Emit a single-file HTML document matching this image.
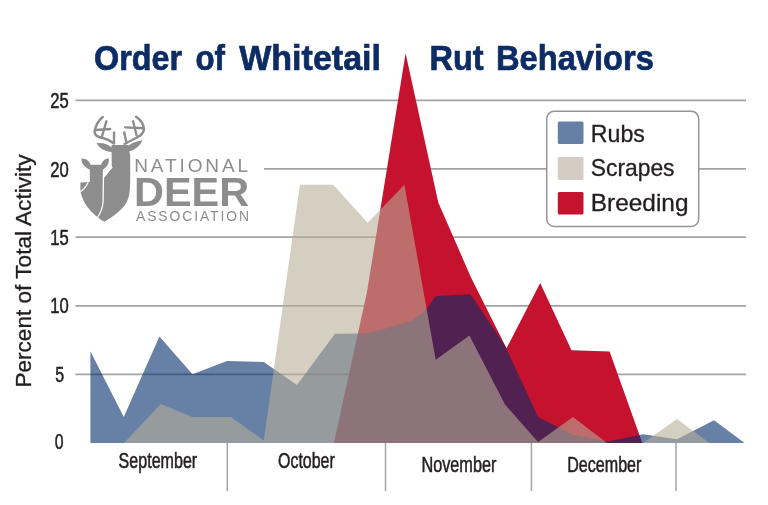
<!DOCTYPE html>
<html><head><meta charset="utf-8">
<style>
html,body{margin:0;padding:0;background:#fff;width:768px;height:505px;overflow:hidden}
svg{display:block;will-change:transform;filter:blur(0.4px)}
text{font-family:"Liberation Sans",sans-serif}
</style></head>
<body>
<svg width="768" height="505" viewBox="0 0 768 505">
<rect width="768" height="505" fill="#fff"/>
<!-- gridlines -->
<g stroke="#a3a3a3" stroke-width="1.8">
<line x1="75.5" y1="100.3" x2="746" y2="100.3"/>
<line x1="264" y1="168.8" x2="746" y2="168.8"/>
<line x1="75.5" y1="237.2" x2="746" y2="237.2"/>
<line x1="75.5" y1="305.8" x2="746" y2="305.8"/>
<line x1="75.5" y1="374.4" x2="746" y2="374.4"/>
</g>
<!-- month separators -->
<g stroke="#a3a3a3" stroke-width="1.5">
<line x1="227.3" y1="443" x2="227.3" y2="491"/>
<line x1="385.5" y1="443" x2="385.5" y2="491"/>
<line x1="531.4" y1="443" x2="531.4" y2="491"/>
<line x1="676" y1="443" x2="676" y2="491"/>
</g>
<!-- Breeding (opaque) -->
<polygon fill="#c5122e" points="333.9,443 367,292 405.6,53.3 438.3,202.5 471,277.5 506.5,348.3 540.2,283 571.5,350.2 609.6,351.4 642.3,443"/>
<!-- Rubs -->
<polygon fill="#022b69" fill-opacity="0.6" points="90.4,443 90.4,351.3 123.75,416.9 159.4,336.4 192.5,374.2 227,361.1 263.8,362 297,385 335,333.7 366,333.5 386,328.5 411,321 425,311 435.8,296 470.5,294.3 504.6,345 538.1,417 573,434.7 607.8,441.5 643,434.3 677,439.3 714,420.2 744.6,443"/>
<!-- Scrapes -->
<polygon fill="#b8ae98" fill-opacity="0.59" points="91.9,443 124,443 160.7,403.9 192.5,416.9 231,416.9 263.8,440.5 299.9,184.7 333.2,184.7 367.7,222.8 404.4,184.75 435.7,359.8 469.4,335.6 505,404.6 538.1,442 573,417 607,443 643,443 677,418.9 709.5,443 745,443"/>

<!-- logo white bg -->
<rect x="76" y="112" width="186" height="116" fill="#fff"/>
<g fill="#8d8d8d">
<!-- antlers -->
<g fill="none" stroke="#8d8d8d" stroke-width="2.4" stroke-linecap="round" stroke-linejoin="round">
<path d="M102.7,117 C99,120 95.5,126 94.5,132 C95,136 99,137.5 103,138 C107,139 110.5,140.5 114,143.5"/>
<path d="M101.8,137 L106.4,121.3"/>
<path d="M95.8,130 L110.2,129"/>
<path d="M114,132.5 L114,143"/>
<path d="M136.1,116.8 C140,119.5 143.5,124 144,129 C143.5,133.5 141,135.5 137,137.5 C133,139.5 129,141.5 124.5,144"/>
<path d="M136.6,135.5 L133.1,121.3"/>
<path d="M143.4,128.2 L125.2,127.4"/>
<path d="M124.2,132.5 L126.2,141.5"/>
</g>
<!-- ears -->
<path d="M96.5,143 C103,142.5 109,144.5 112.5,148 L112.5,152 C105,152 99.5,148.5 96.5,143 Z"/>
<path d="M142.5,140.5 C136,141 130,143.5 126.5,147.5 L126.5,151.5 C134,151 139.5,146.5 142.5,140.5 Z"/>
<!-- doe head -->
<path d="M81.5,158.5 C85.5,158.5 89.5,160.5 90.5,164.8 L101.3,164.8 C102.3,160.5 105.5,158.5 108.8,158.5 C109.3,163 107.3,167.5 102.8,169.5 L102.8,185 L89.8,185 L89.8,169.5 C84.5,167.5 81,163 81.5,158.5 Z"/>
<!-- body + buck neck -->
<path d="M80.4,182.5 L89.8,182 L103.3,177.5 L111.8,167.5 L111.5,145 L128.5,145 L130.2,156 L130.2,182 C130,191 129.4,197 126.5,202.5 C121.5,210.5 113,216.5 104.5,221.8 C96,217 88.5,210 84.3,202 C82.3,198 81,194.5 80.4,191 Z"/>
</g>
<g fill="none" stroke="#fff" stroke-width="1.3">
<path d="M112.3,166.8 L103.4,177.6 L103.1,202 C102.6,208 100.6,213 97.3,218"/>
<path d="M88.2,182.3 C86.5,186 83.8,189.6 80,191.8"/>
</g>
<g fill="#8d8d8d">
<text x="134.2" y="172" font-size="19" textLength="113.9" lengthAdjust="spacing">NATIONAL</text>
<text x="134" y="206.2" font-size="41.4" font-weight="bold" textLength="115.1" lengthAdjust="spacingAndGlyphs">DEER</text>
<text x="136" y="220.8" font-size="13.9" textLength="113" lengthAdjust="spacing">ASSOCIATION</text>
</g>

<!-- title -->
<g fill="#0d2c63" stroke="#0d2c63" stroke-width="0.7" font-weight="bold">
<text x="94" y="70" font-size="35.7" textLength="88" lengthAdjust="spacingAndGlyphs">Order</text>
<text x="195.4" y="70" font-size="35.7" textLength="29.5" lengthAdjust="spacingAndGlyphs">of</text>
<text x="239.2" y="69.8" font-size="35.7" textLength="141.8" lengthAdjust="spacingAndGlyphs">Whitetail</text>
<text x="429.5" y="69.8" font-size="35.7" textLength="54.2" lengthAdjust="spacingAndGlyphs">Rut</text>
<text x="496" y="70" font-size="35.7" textLength="157.9" lengthAdjust="spacingAndGlyphs">Behaviors</text>
</g>

<!-- y ticks -->
<g fill="#231f20" stroke="#231f20" stroke-width="0.55" font-size="22">
<text x="50.2" y="108.4" textLength="18.5" lengthAdjust="spacingAndGlyphs">25</text>
<text x="50.2" y="176.6" textLength="18.5" lengthAdjust="spacingAndGlyphs">20</text>
<text x="50.2" y="244.8" textLength="18.5" lengthAdjust="spacingAndGlyphs">15</text>
<text x="50.2" y="313" textLength="18.5" lengthAdjust="spacingAndGlyphs">10</text>
<text x="55.2" y="381.8" textLength="8.9" lengthAdjust="spacingAndGlyphs">5</text>
<text x="54.8" y="449" textLength="8.8" lengthAdjust="spacingAndGlyphs">0</text>
</g>
<!-- y axis label -->
<text transform="translate(31.2,387.6) rotate(-90)" fill="#231f20" stroke="#231f20" stroke-width="0.3" font-size="22.1" textLength="233.2" lengthAdjust="spacingAndGlyphs">Percent of Total Activity</text>

<!-- month labels -->
<g fill="#231f20" stroke="#231f20" stroke-width="0.55" font-size="22.5">
<text x="118.6" y="468.3" textLength="78.6" lengthAdjust="spacingAndGlyphs">September</text>
<text x="278" y="468" textLength="56.8" lengthAdjust="spacingAndGlyphs">October</text>
<text x="421.4" y="471.5" textLength="75" lengthAdjust="spacingAndGlyphs">November</text>
<text x="567.2" y="471.5" textLength="74.2" lengthAdjust="spacingAndGlyphs">December</text>
</g>

<!-- legend -->
<rect x="546.7" y="111.2" width="152" height="115.3" rx="7.5" ry="7.5" fill="#fff" stroke="#959595" stroke-width="1.5"/>
<rect x="557.8" y="121.4" width="25.7" height="22.6" rx="1.5" fill="#6480a5"/>
<rect x="557.8" y="157" width="25.7" height="23" rx="1.5" fill="#d5cdc4"/>
<rect x="557.8" y="192" width="25.7" height="22.6" rx="1.5" fill="#c5122e"/>
<g fill="#231f20" stroke="#231f20" stroke-width="0.3" font-size="23.2">
<text x="590.8" y="141.6" textLength="54.1" lengthAdjust="spacingAndGlyphs">Rubs</text>
<text x="590.8" y="176.2" textLength="83.7" lengthAdjust="spacingAndGlyphs">Scrapes</text>
<text x="590.8" y="211" textLength="97.7" lengthAdjust="spacingAndGlyphs">Breeding</text>
</g>
</svg>
</body></html>
